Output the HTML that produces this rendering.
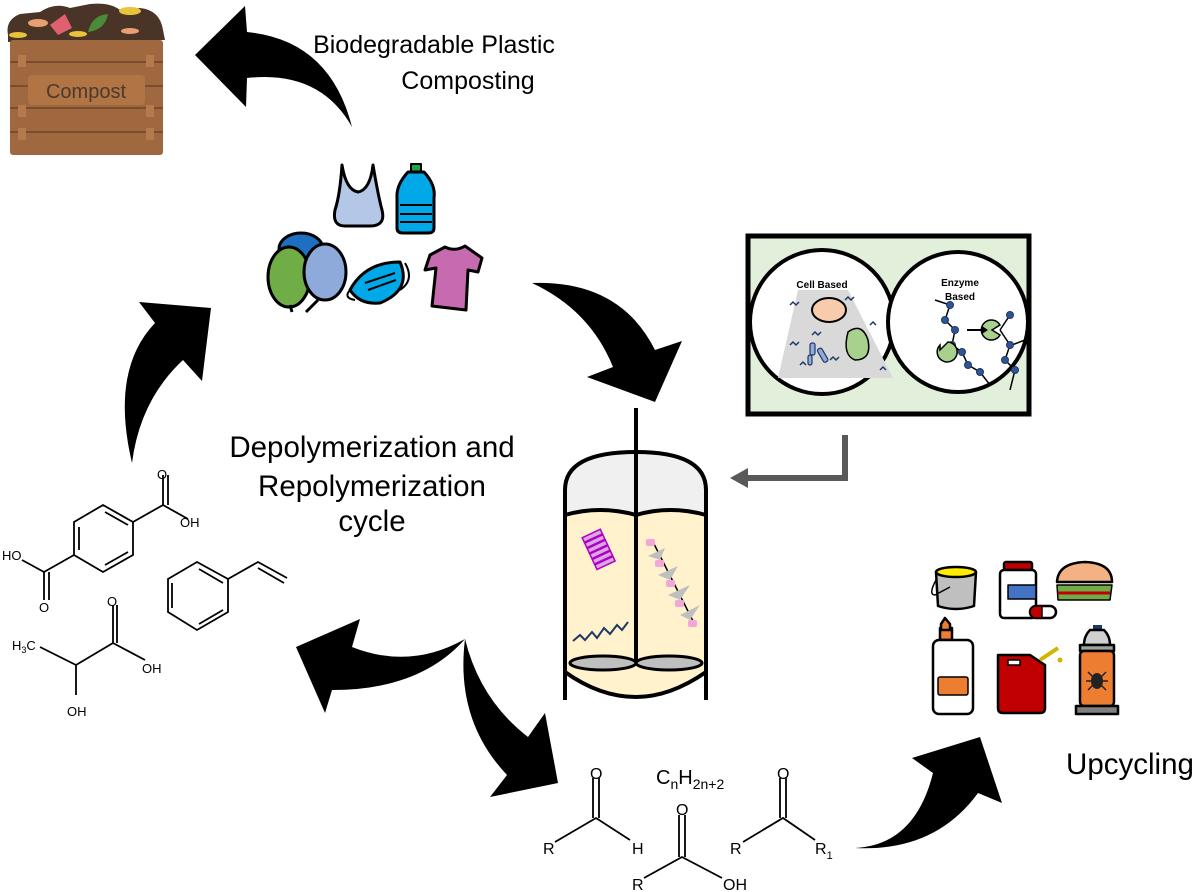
<!DOCTYPE html>
<html><head><meta charset="utf-8"><style>
html,body{margin:0;padding:0;background:#fff;}
svg{display:block;font-family:"Liberation Sans",Arial,sans-serif;}
</style></head><body>
<svg width="1200" height="892" viewBox="0 0 1200 892" xmlns="http://www.w3.org/2000/svg">
<!-- Compost crate -->
<g>
<path d="M8,35 Q5,20 20,14 L40,12 Q55,2 70,8 L90,4 Q110,2 120,10 L140,8 Q160,10 163,30 L165,40 L8,42 Z" fill="#4a3428"/>
<ellipse cx="38" cy="23" rx="10" ry="4" fill="#e9a070"/>
<ellipse cx="18" cy="35" rx="9" ry="3" fill="#e8c43a"/>
<path d="M50,25 L65,14 L72,28 L58,35 Z" fill="#e06070"/>
<ellipse cx="78" cy="34" rx="9" ry="3" fill="#e8c43a"/>
<path d="M88,32 Q92,15 108,14 Q105,30 88,32Z" fill="#4a8a3a"/>
<ellipse cx="130" cy="11" rx="11" ry="4" fill="#e8c43a"/>
<ellipse cx="130" cy="31" rx="9" ry="3" fill="#e9a070"/>
<rect x="10" y="40" width="153" height="115" rx="3" fill="#a0683f"/>
<g stroke="#6e4428" stroke-width="1.5">
<line x1="10" y1="62" x2="163" y2="62"/><line x1="10" y1="86" x2="163" y2="86"/>
<line x1="10" y1="108" x2="163" y2="108"/><line x1="10" y1="132" x2="163" y2="132"/>
</g>
<g fill="#b57a4b"><rect x="18" y="55" width="8" height="12"/><rect x="146" y="55" width="8" height="12"/>
<rect x="18" y="105" width="8" height="12"/><rect x="146" y="105" width="8" height="12"/>
<rect x="18" y="128" width="8" height="12"/><rect x="146" y="128" width="8" height="12"/></g>
<rect x="28" y="75" width="117" height="30" rx="4" fill="#b07445"/>
<text x="86" y="98" font-size="20" fill="#4b3a2e" text-anchor="middle">Compost</text>
</g>

<!-- Arrows -->
<g fill="#000">
<path d="M352,127 Q330,40 247,32 L245,6 L195,55 L246,107 L247,78 Q320,70 352,127 Z"/>
<path d="M532,283 Q620,280 655,350 L682,341 L655,402 L587,377 L613,367 Q590,310 532,283 Z"/>
<path d="M132,463 Q110,370 155,323 L139,302 L211,308 L202,381 L183,360 Q140,400 132,463 Z"/>
<path d="M465,639 Q410,670 352,647 L360,619 L296,647 L325,713 L332,690 Q420,690 465,639 Z"/>
<path d="M465,639 Q455,720 507,775 L490,797 L558,783 L545,713 L528,737 Q480,700 465,639 Z"/>
<path d="M855,848 Q915,845 933,773 L912,758 L980,737 L1002,803 L978,793 Q935,852 855,848 Z"/>
</g>

<!-- Texts -->
<text x="434" y="53" font-size="25" text-anchor="middle">Biodegradable Plastic</text>
<text x="468" y="89" font-size="25" text-anchor="middle">Composting</text>
<text x="372" y="457" font-size="29.5" text-anchor="middle">Depolymerization and</text>
<text x="372" y="496" font-size="29.5" text-anchor="middle">Repolymerization</text>
<text x="372" y="531" font-size="29.5" text-anchor="middle">cycle</text>
<text x="1130" y="774" font-size="29.5" text-anchor="middle">Upcycling</text>

<!-- Plastics -->
<g stroke="#000" stroke-width="3" stroke-linejoin="round">
<path d="M342,165 Q346,190 358,192 Q370,190 373,165 Q378,195 382,210 Q386,226 370,226 L345,226 Q332,226 335,210 Q340,195 342,165 Z" fill="#b4c7e7"/>
<rect x="411" y="164" width="10" height="8" fill="#22a34a" stroke-width="2"/>
<path d="M408,172 L424,172 Q436,185 434,198 L434,228 Q434,233 428,233 L403,233 Q397,233 397,228 L397,198 Q396,185 408,172 Z" fill="#00a8e8"/>
<path d="M400,205 L432,205 M400,214 L432,214 M400,222 L432,222" stroke-width="2"/>
<ellipse cx="301" cy="249" rx="22" ry="16" fill="#1f6fc0"/>
<ellipse cx="289" cy="277" rx="21" ry="30" fill="#70ad47"/>
<ellipse cx="325" cy="272" rx="21" ry="28" fill="#8eaadb"/>
<path d="M290,305 L292,312 M318,300 L306,312" fill="none"/>
<path d="M350,290 Q365,262 400,262 Q412,290 380,303 Q360,305 350,290 Z" fill="#00a8e8"/>
<path d="M365,283 L395,273 M368,290 L396,280" stroke-width="2" fill="none"/>
<path d="M350,290 Q343,298 355,300 M405,263 Q415,280 400,290" fill="none" stroke-width="2"/>
<path d="M430,255 L445,247 Q455,252 465,246 L482,258 L478,272 L468,270 L466,310 L432,306 L436,268 L425,270 Z" fill="#c66bb0"/>
</g>

<!-- Green box -->
<rect x="748" y="236" width="281" height="178" fill="#e2efda" stroke="#000" stroke-width="5"/>
<circle cx="822" cy="322" r="72" fill="#fff" stroke="#000" stroke-width="4"/>
<circle cx="958" cy="322" r="70" fill="#fff" stroke="#000" stroke-width="4"/>
<path d="M798,290 L848,290 L893,378 L778,378 Z" fill="#d9d9d9"/>
<text x="822" y="288" font-size="10" font-weight="bold" text-anchor="middle">Cell Based</text>
<text x="960" y="286" font-size="10" font-weight="bold" text-anchor="middle">Enzyme</text>
<text x="960" y="300" font-size="10" font-weight="bold" text-anchor="middle">Based</text>
<ellipse cx="829" cy="310" rx="17" ry="12" fill="#f8cbad" stroke="#000" stroke-width="2"/>
<path d="M848,332 Q862,322 868,340 Q872,360 855,360 Q842,355 848,332 Z" fill="#a9d18e" stroke="#000" stroke-width="1.5"/>
<g stroke="#1f3864" stroke-width="1.5" fill="none">
<path d="M790,305 l3,-3 l3,3 l3,-3 M812,335 l3,-3 l3,3 l3,-3 M790,345 l3,-3 l3,3 l3,-3 M800,365 l3,-3 l3,3 M830,360 l3,-3 l3,3 l3,-3 M870,325 l3,-3 l3,3 M880,370 l3,-3 l3,3 M845,300 l3,-3 l3,3 l3,-3"/>
</g>
<g fill="#8faadc" stroke="#1f3864" stroke-width="1.2"><rect x="810" y="343" width="5" height="12" rx="2"/><rect x="820" y="348" width="5" height="15" rx="2" transform="rotate(-30 822 355)"/><rect x="808" y="355" width="4" height="10" rx="2"/></g>
<g stroke="#000" stroke-width="1.5" fill="none">
<path d="M935,300 L950,305 L945,320 L955,330 L952,345 L962,352 L968,365 L980,372 L990,385"/>
<path d="M1000,330 L1010,345 L1005,360 L1015,370 L1010,390"/>
<path d="M1012,345 L1025,340 M1000,330 L1010,315"/>
</g>
<g fill="#2f5597" stroke="#1f3864"><circle cx="950" cy="305" r="3.5"/><circle cx="945" cy="320" r="3.5"/><circle cx="955" cy="330" r="3.5"/><circle cx="952" cy="345" r="3.5"/><circle cx="962" cy="352" r="3.5"/><circle cx="968" cy="365" r="3.5"/><circle cx="980" cy="372" r="3.5"/><circle cx="1010" cy="345" r="3.5"/><circle cx="1005" cy="360" r="3.5"/><circle cx="1015" cy="370" r="3.5"/><circle cx="1010" cy="315" r="3.5"/></g>
<path d="M940,345 a10,10 0 1 0 8,-3 l-8,8 Z" fill="#a9d18e" stroke="#000" stroke-width="1.5"/>
<path d="M1000,325 a10,10 0 1 0 0,10 l-8,-5 Z" fill="#a9d18e" stroke="#000" stroke-width="1.5"/>
<path d="M967,330 L982,330" stroke="#000" stroke-width="2"/><path d="M982,326 L988,330 L982,334 Z"/>

<!-- Gray elbow arrow -->
<path d="M845,435 L845,478 L745,478" stroke="#595959" stroke-width="6" fill="none"/>
<path d="M748,468 L730,478 L748,488 Z" fill="#595959"/>

<!-- Reactor -->
<path d="M565,490 Q565,452 636,452 Q706,452 706,490 L706,515 Q670,505 636,515 Q600,505 565,515 Z" fill="#f0f0f0"/>
<path d="M565,515 Q600,505 636,515 Q670,505 706,515 L706,675 Q670,695 636,695 Q600,695 565,675 Z" fill="#fff2cc"/>
<g stroke="#000" stroke-width="4" fill="none">
<path d="M565,700 L565,490 Q565,452 636,452 Q706,452 706,490 L706,700"/>
<path d="M565,515 Q600,505 636,515 Q670,505 706,515"/>
<path d="M565,672 Q600,697 636,697 Q670,697 706,672"/>
<line x1="636" y1="408" x2="636" y2="662"/>
</g>
<ellipse cx="603" cy="663" rx="33" ry="7" fill="#bfbfbf" stroke="#000" stroke-width="3"/>
<ellipse cx="669" cy="663" rx="33" ry="7" fill="#bfbfbf" stroke="#000" stroke-width="3"/>
<g transform="rotate(-25 598 548)"><g fill="#d9a6e6" stroke="#b000c0" stroke-width="1.5">
<rect x="588" y="532" width="20" height="5"/><rect x="588" y="538" width="20" height="5"/><rect x="588" y="544" width="20" height="5"/><rect x="588" y="550" width="20" height="5"/><rect x="588" y="556" width="20" height="5"/><rect x="588" y="562" width="20" height="5"/></g></g>
<path d="M652,540 L695,625" stroke="#000" stroke-width="1.5"/>
<g fill="#bfbfbf"><path d="M648,556 L665,548 L660,560 Z"/><path d="M658,575 L678,566 L670,580 Z"/><path d="M668,595 L690,585 L680,600 Z"/><path d="M680,615 L700,605 L690,620 Z"/></g>
<g fill="#f4a6d7"><rect x="646" y="539" width="9" height="7" rx="2"/><rect x="655" y="560" width="9" height="7" rx="2"/><rect x="666" y="580" width="9" height="7" rx="2"/><rect x="675" y="600" width="9" height="7" rx="2"/><rect x="688" y="620" width="9" height="7" rx="2"/></g>
<path d="M573,641 L580,635 L585,640 L592,632 L597,638 L604,628 L610,634 L617,625 L622,630 L628,622" stroke="#1f3864" stroke-width="2" fill="none"/>

<!-- Upcycling icons -->
<g stroke="#000" stroke-width="2.5" stroke-linejoin="round">
<path d="M936,572 L976,572 L974,606 Q956,612 938,606 Z" fill="#bfbfbf"/>
<ellipse cx="956" cy="572" rx="20" ry="5" fill="#ffeb00"/>
<path d="M936,580 Q928,595 935,595 L950,587" fill="none" stroke-width="1.5"/>
<rect x="1004" y="562" width="28" height="8" rx="2" fill="#c00000"/>
<rect x="1000" y="570" width="36" height="48" rx="4" fill="#fff"/>
<rect x="1008" y="585" width="28" height="14" fill="#4472c4" stroke-width="1.5"/>
<rect x="1030" y="606" width="26" height="12" rx="6" fill="#fff"/>
<path d="M1036,606 L1042,606 L1042,618 L1036,618 A6,6 0 0 1 1036,606 Z" fill="#c00000" stroke-width="1.5"/>
<path d="M1057,582 Q1058,563 1085,562 Q1112,563 1112,582 Z" fill="#f4b183"/>
<path d="M1057,585 L1112,585 L1110,600 L1058,600 Z" fill="#70ad47" stroke-width="1.5"/>
<path d="M1058,593 L1110,593" stroke="#c00000" stroke-width="3"/>
<rect x="940" y="628" width="12" height="12" fill="#ed7d31"/>
<path d="M945,618 L950,624 L950,630 L941,630 L941,624 Z" fill="#ed7d31"/>
<rect x="933" y="640" width="40" height="74" rx="6" fill="#fff"/>
<rect x="938" y="677" width="30" height="18" rx="2" fill="#ed7d31" stroke-width="1.5"/>
<path d="M998,655 L1030,655 L1045,665 L1045,708 Q1045,713 1040,713 L1003,713 Q998,713 998,708 Z" fill="#c00000"/>
<rect x="1008" y="660" width="12" height="5" fill="#fff" stroke-width="1.5"/>
<path d="M1040,660 L1058,648" stroke="#d4b400" stroke-width="4"/>
<rect x="1093" y="625" width="9" height="6" fill="#1f3864" stroke="none"/>
<path d="M1090,630 L1104,630 Q1110,636 1110,645 L1084,645 Q1084,636 1090,630 Z" fill="#d0d0d0"/>
<rect x="1080" y="645" width="34" height="6" fill="#a0a0a0"/>
<rect x="1080" y="651" width="34" height="55" rx="4" fill="#ed7d31"/>
<rect x="1076" y="706" width="42" height="8" fill="#808080"/>
</g>
<ellipse cx="1097" cy="681" rx="6" ry="8" fill="#222"/>
<path d="M1088,672 L1106,690 M1106,672 L1088,690 M1086,681 L1108,681" stroke="#222" stroke-width="1.5"/>
<circle cx="1060" cy="660" r="2.5" fill="#d4b400"/>

<!-- Chemistry left -->
<g stroke="#000" stroke-width="1.8" fill="none">
<path d="M103,505 L133,522 L133,555 L103,572 L74,555 L74,522 Z"/>
<path d="M105,512 L128,525 M128,552 L105,565 M79,550 L79,527"/>
<path d="M133,522 L163,505 L163,475 M168,505 L168,475 M163,505 L188,519"/>
<path d="M74,555 L44,572 L44,600 M49,572 L49,600 M44,572 L22,560"/>
<path d="M197,562 L228,579 L228,612 L197,630 L168,612 L168,579 Z"/>
<path d="M172,583 L172,608 M199,624 L223,610 M199,569 L223,583"/>
<path d="M228,579 L258,562 L287,578 M258,568 L284,583"/>
<path d="M40,647 L76,665 L113,643 L113,605 M117,643 L117,605 M113,643 L145,660 M76,665 L76,695"/>
</g>
<g font-size="13" fill="#000">
<text x="157" y="479">O</text><text x="180" y="527">OH</text>
<text x="2" y="560">HO</text><text x="39" y="612">O</text>
<text x="107" y="606">O</text><text x="142" y="673">OH</text><text x="67" y="716">OH</text>
<text x="12" y="650">H<tspan font-size="9" dy="3">3</tspan><tspan dy="-3">C</tspan></text>
</g>

<!-- Chemistry bottom -->
<g stroke="#000" stroke-width="1.8" fill="none">
<path d="M555,842 L596,818 L630,840 M593,818 L593,778 M599,818 L599,778"/>
<path d="M644,878 L682,857 L722,878 M679,857 L679,815 M685,857 L685,815"/>
<path d="M743,842 L783,818 L815,840 M780,818 L780,778 M786,818 L786,778"/>
</g>
<g font-size="16" fill="#000">
<text x="590" y="779">O</text><text x="543" y="854">R</text><text x="632" y="854">H</text>
<text x="676" y="815">O</text><text x="632" y="890">R</text><text x="723" y="890">OH</text>
<text x="777" y="779">O</text><text x="730" y="854">R</text><text x="815" y="854">R<tspan font-size="11" dy="5">1</tspan></text>
<text x="656" y="784" font-size="20">C<tspan font-size="14" dy="5">n</tspan><tspan dy="-5">H</tspan><tspan font-size="14" dy="5">2n+2</tspan></text>
</g>
</svg>
</body></html>
